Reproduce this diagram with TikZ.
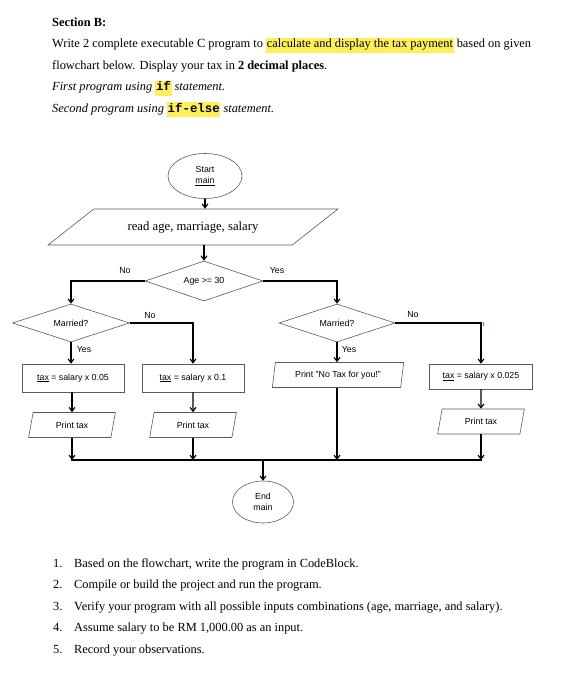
\documentclass[tikz,border=0pt]{standalone}
\usepackage{fontspec}
\setmainfont{Liberation Serif}
\setsansfont{Liberation Sans}
\setmonofont{Liberation Mono}
\usetikzlibrary{positioning,shapes.geometric,arrows.meta}

\definecolor{hlyellow}{RGB}{255,240,90}
\definecolor{shapegray}{RGB}{90,90,90}
\newcommand{\hlword}[1]{{\setlength{\fboxsep}{0.6pt}\colorbox{hlyellow}{\strut #1}}}
\newcommand{\hlcode}[1]{\hlword{\upshape\ttfamily\bfseries #1}}

\begin{document}
\begin{tikzpicture}[x=1pt,y=-1pt,
        chartfont/.style={font=\sffamily\fontsize{8.8}{10.5}\selectfont},
        terminal/.style={ellipse, draw=shapegray, line width=0.6pt, inner sep=0pt, align=center, chartfont},
        decision/.style={diamond, draw=shapegray, line width=0.6pt, inner sep=0pt, aspect=3, chartfont},
        process/.style={rectangle, draw=shapegray, line width=0.6pt, inner sep=0pt, chartfont},
        iobox/.style={trapezium, trapezium stretches=true, draw=shapegray, line width=0.6pt, inner sep=0pt, chartfont},
        flow/.style={draw=black, line width=1.1pt, -{Straight Barb[length=4pt,width=6pt]}},
        plainflow/.style={draw=black, line width=1.1pt},
        branchlabel/.style={chartfont, inner sep=0pt},
        bodytext/.style={anchor=base west, inner sep=0pt, font=\fontsize{12.4}{14}\selectfont},
    ]
    \useasboundingbox (0,0) rectangle (580,700);

    %Question text
    \node[bodytext] (title) at (52,27) {\bfseries Section B:};
    \node[bodytext] (line1) at (52,48) {Write 2 complete executable C program to \hlword{calculate and display the tax payment} based on given};
    \node[bodytext] (line2) at (52,69.5) {flowchart below. Display your tax in \textbf{2 decimal places}.};
    \node[bodytext] (line3) at (52,91) {\itshape First program using \hlcode{if} statement.};
    \node[bodytext] (line4) at (52,112.5) {\itshape Second program using \hlcode{if-else} statement.};

    %Nodes
    \node[terminal, minimum width=74pt, minimum height=45pt] (start) at (205,176) {Start\\\underline{main}};
    \node[iobox, minimum width=290pt, minimum height=36pt, trapezium left angle=21, trapezium right angle=159,
          font=\fontsize{12.7}{14}\selectfont] (read) at (193,227) {read age, marriage, salary};
    \node[decision, minimum width=118pt, minimum height=40pt] (age) at (204,281) {Age >= 30};

    \node[decision, minimum width=117pt, minimum height=38pt] (marriedL) at (71,323) {Married?};
    \node[process, minimum width=102pt, minimum height=28pt] (taxA) at (73,378) {\underline{tax} = salary x 0.05};
    \node[process, minimum width=102pt, minimum height=28pt] (taxB) at (193,378) {\underline{tax} = salary x 0.1};
    \node[iobox, minimum width=87pt, minimum height=25pt, trapezium left angle=74, trapezium right angle=106] (printA) at (72,425) {Print tax};
    \node[iobox, minimum width=87pt, minimum height=25pt, trapezium left angle=74, trapezium right angle=106] (printB) at (193,425) {Print tax};

    \node[decision, minimum width=116pt, minimum height=38pt] (marriedR) at (337,323) {Married?};
    \node[iobox, minimum width=132pt, minimum height=25pt, trapezium left angle=76, trapezium right angle=104] (notax) at (338,375) {Print "No Tax for you!"};
    \node[process, minimum width=103pt, minimum height=25pt] (taxC) at (481,376.5) {\underline{tax} = salary x 0.025};
    \node[iobox, minimum width=87pt, minimum height=25pt, trapezium left angle=74, trapezium right angle=106] (printC) at (481,421.5) {Print tax};

    \node[terminal, minimum width=61pt, minimum height=42pt] (finish) at (263,502) {End\\main};

    \coordinate (mergeL) at (71,460);
    \coordinate (mergeR) at (482,460);

    %Lines
    \draw[flow] (start.south) -- (start.south |- read.north);
    \draw[flow] (age.north |- read.south) -- (age.north);
    \draw[flow] (age.west) -- (age.west -| marriedL.north) -- (marriedL.north);
    \draw[flow] (age.east) -- (age.east -| marriedR.north) -- (marriedR.north);
    \node[branchlabel] (ageno) at (125,271) {No};
    \node[branchlabel] (ageyes) at (277,271) {Yes};

    \draw[flow] (marriedL.south) -- (marriedL.south |- taxA.north);
    \draw[flow] (marriedL.east) -- (marriedL.east -| taxB.north) -- (taxB.north);
    \node[branchlabel] (leftyes) at (84,350) {Yes};
    \node[branchlabel] (leftno) at (150,316) {No};
    \draw[flow] (taxA.south -| printA.north) -- (printA.north);
    \draw[flow] (taxB.south) -- (printB.north);
    \draw[flow] (printA.south) -- (printA.south |- mergeL);
    \draw[flow] (printB.south) -- (printB.south |- mergeL);

    \draw[flow] (marriedR.south) -- (marriedR.south |- notax.north);
    \draw[flow] (marriedR.east) -- (marriedR.east -| taxC.north) -- (taxC.north);
    \node[branchlabel] (rightyes) at (349,350) {Yes};
    \node[branchlabel] (rightno) at (413,315) {No};
    \draw[red!70, line width=0.5pt] (483,322) -- (483,326);
    \draw[flow] (taxC.south) -- (printC.north);
    \draw[flow] (notax.south -| marriedR.south) -- (marriedR.south |- mergeL);
    \draw[flow] (printC.south) -- (printC.south |- mergeL);

    \draw[plainflow] (mergeL) -- (mergeR);
    \draw[flow] (mergeL -| finish.north) -- (finish.north);

    %Task list
    \foreach \num/\task [count=\row from 0] in {1/{Based on the flowchart, write the program in CodeBlock.},
        2/Compile or build the project and run the program.,
        3/{Verify your program with all possible inputs combinations (age, marriage, and salary).},
        4/{Assume salary to be RM 1,000.00 as an input.},
        5/Record your observations.}
    {
        \node[bodytext] (num\num) at (53,567+21.5*\row) {\num.};
        \node[bodytext] (task\num) at (74,567+21.5*\row) {\task};
    }
\end{tikzpicture}
\end{document}
